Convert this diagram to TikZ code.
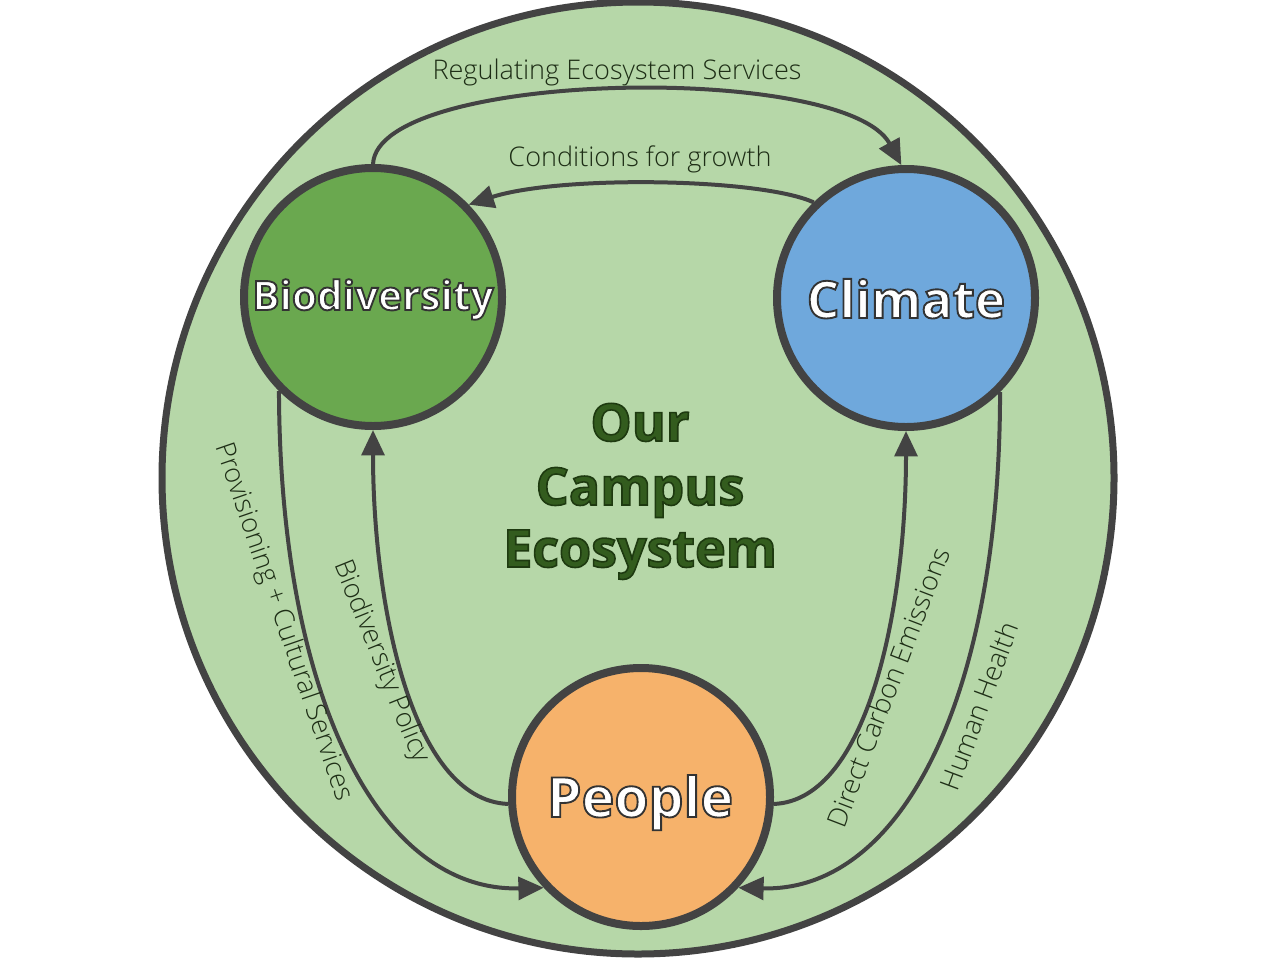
\documentclass[tikz,border=0pt]{standalone}
\usepackage{fontspec}
\setmainfont{Open Sans}
\newfontfamily\lightf{Open Sans Light}
\usetikzlibrary{arrows.meta}
\definecolor{ring}{HTML}{B6D7A8}
\definecolor{edge}{HTML}{434343}
\definecolor{biofill}{HTML}{6AA84F}
\definecolor{clifill}{HTML}{6FA8DC}
\definecolor{pplfill}{HTML}{F6B26B}
\definecolor{lbltext}{HTML}{1E2E16}
\definecolor{titlefill}{HTML}{335C1E}
% outlined text: fill in the current colour, stroke #2 with width #1 (bp)
\newcommand\outl[3]{\special{pdf:literal direct 2 Tr #1 w #2 RG}#3\special{pdf:literal direct 0 Tr}}
\begin{document}
\begin{tikzpicture}[x=0.75pt,y=-0.75pt,
  world/.style={circle, draw=edge, fill=ring, line width=5.25pt, minimum size=714pt, inner sep=0pt},
  sphere/.style={circle, draw=edge, line width=6pt, minimum size=193.5pt, inner sep=0pt},
  link/.style={draw=edge, line width=3pt, -{Triangle[length=19pt,width=17pt]}},
  lbl/.style={font=\lightf\fontsize{20.3}{24}\selectfont, text=lbltext, inner sep=0pt},
  namebox/.style={font=\bfseries\fontsize{#1}{#1}\selectfont, text=white, inner sep=0pt, anchor=base},
  titletext/.style={font=\bfseries\fontsize{39}{46}\selectfont, text=titlefill, inner sep=0pt, anchor=base},
]
\useasboundingbox (0,0) rectangle (1280,960);
\fill[white] (0,0) rectangle (1280,960);

\node[world] (outer) at (638,478) {};

\node[sphere, fill=biofill] (bio) at (373,297) {};
\node[sphere, fill=clifill] (cli) at (906,298) {};
\node[sphere, fill=pplfill] (ppl) at (641,797) {};

% connectors
\draw[link] (bio.90) .. controls (378,70) and (845,62) .. (cli.92);
\draw[link] (cli.134) .. controls (760,178) and (560,175) .. (bio.44);
\draw[link] (bio.225) .. controls (280,700) and (380,892) .. (ppl.223);
\draw[link] (cli.-45) .. controls (1000,700) and (900,892) .. (ppl.-43);
\draw[link] (ppl.183) .. controls (410,800) and (373,600) .. (bio.270);
\draw[link] (ppl.-3) .. controls (870,800) and (906,600) .. (cli.270);

% connector labels
\node[lbl] (reg) at (617,72) {Regulating Ecosystem Services};
\node[lbl] (cond) at (640,159) {Conditions for growth};
\node[lbl, rotate=-71] (prov) at (283,622) {Provisioning + Cultural Services};
\node[lbl, rotate=-68] (pol) at (381,662) {Biodiversity Policy};
\node[lbl, rotate=69] (dce) at (888,687) {Direct Carbon Emissions};
\node[lbl, rotate=69.5] (hh) at (979,706) {Human Health};

% circle names
\node[namebox=30.4] (bioname) at (373,310) {\outl{1.4}{0.2 0.2 0.2}{Biodiversity}};
\node[namebox=38.6] (cliname) at (906,318) {\outl{1.4}{0.2 0.2 0.2}{Climate}};
\node[namebox=41.5] (pplname) at (640,817) {\outl{1.4}{0.2 0.2 0.2}{People}};

% title
\node[titletext] (our) at (640,441) {\outl{1.2}{0.118 0.227 0.063}{Our}};
\node[titletext] (campus) at (640,505) {\outl{1.2}{0.118 0.227 0.063}{Campus}};
\node[titletext] (ecosys) at (640,567) {\outl{1.2}{0.118 0.227 0.063}{Ecosystem}};
\end{tikzpicture}
\end{document}
